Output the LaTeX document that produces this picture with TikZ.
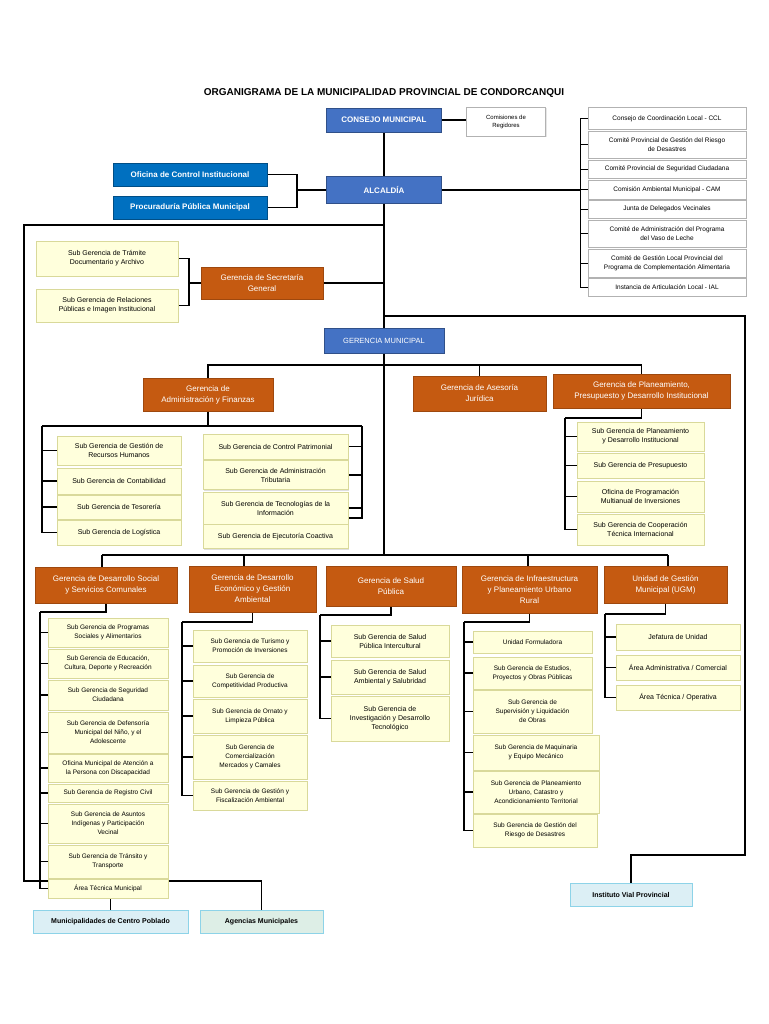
\documentclass[tikz,border=0pt]{standalone}
\usepackage{fontspec}
\setmainfont{Liberation Sans}
\usetikzlibrary{shadows,backgrounds}
\definecolor{bl}{HTML}{4472C4}
\definecolor{bl2}{HTML}{0070C0}
\definecolor{org}{HTML}{C55A11}
\definecolor{yf}{HTML}{FFFFDC}
\definecolor{yd}{HTML}{D9D99A}
\definecolor{lb}{HTML}{DCEFF5}
\definecolor{lg}{HTML}{DDEEE6}
\definecolor{cy}{HTML}{8DD3E8}
\begin{document}
\begin{tikzpicture}[x=1pt,y=-1pt,
 wh/.style 2 args={minimum width=#1pt,minimum height=#2pt},
 box/.style={draw,inner sep=1pt,align=center,font=\fontsize{7}{9}\selectfont},
 blu/.style={box,fill=bl,draw=bl!70!black,text=white,font=\fontsize{8}{10}\selectfont\bfseries},
 blu2/.style={box,fill=bl2,draw=bl2!70!black,text=white,font=\fontsize{8}{10}\selectfont\bfseries},
 ora/.style={box,fill=org,draw=org!80!black,text=white,font=\fontsize{8}{11}\selectfont},
 sub/.style={box,fill=yf,draw=yd,line width=0.8pt,drop shadow={opacity=0.25,shadow xshift=1pt,shadow yshift=-1pt}},
 wht/.style={box,fill=white,draw=gray!60,drop shadow={opacity=0.2,shadow xshift=1pt,shadow yshift=-1pt},font=\fontsize{6.5}{9}\selectfont},
 ln/.style={line width=1.3pt,black},
 thin/.style={line width=0.8pt,black}]
\useasboundingbox (0,0) rectangle (768,1024);
\node[font=\fontsize{10}{12}\selectfont\bfseries] (title) at (384,93) {ORGANIGRAMA DE LA MUNICIPALIDAD PROVINCIAL DE CONDORCANQUI};
% top
\node[blu,wh={115}{24}] (cm) at (384,120) {CONSEJO MUNICIPAL};
\node[wht,wh={79}{29},font=\fontsize{6}{8}\selectfont] (com) at (506,122) {Comisiones de\\Regidores};
\node[blu,wh={115}{27}] (alc) at (384,190) {ALCALDÍA};
\node[blu2,wh={154}{23}] (oci) at (190,174.5) {Oficina de Control Institucional};
\node[blu2,wh={154}{23}] (ppm) at (190,207.5) {Procuraduría Pública Municipal};
\node[wht,wh={158}{22}] (r1) at (667,118.5) {Consejo de Coordinación Local - CCL};
\node[wht,wh={158}{27}] (r2) at (667,144.5) {Comité Provincial de Gestión del Riesgo\\de Desastres};
\node[wht,wh={158}{18}] (r3) at (667,169) {Comité Provincial de Seguridad Ciudadana};
\node[wht,wh={158}{19}] (r4) at (667,189.5) {Comisión Ambiental Municipal - CAM};
\node[wht,wh={158}{18}] (r5) at (667,209) {Junta de Delegados Vecinales};
\node[wht,wh={158}{27}] (r6) at (667,233.5) {Comité de Administración del Programa\\del Vaso de Leche};
\node[wht,wh={158}{28}] (r7) at (667,263) {Comité de Gestión Local Provincial del\\Programa de Complementación Alimentaria};
\node[wht,wh={158}{18}] (r8) at (667,287) {Instancia de Articulación Local - IAL};
% secretaria
\node[ora,wh={122}{32}] (gsg) at (262,283) {Gerencia de Secretaría\\General};
\node[sub,wh={142}{35}] (s1) at (107,258.5) {Sub Gerencia de Trámite\\Documentario y Archivo};
\node[sub,wh={142}{33}] (s2) at (107,305.5) {Sub Gerencia de Relaciones\\Públicas e Imagen Institucional};
% gerencia municipal
\node[blu,wh={120}{25},font=\fontsize{7.5}{9}\selectfont] (gm) at (384,340.5) {GERENCIA MUNICIPAL};
\node[box,fill=lb,draw=cy,line width=1pt,wh={155}{23},font=\fontsize{7}{9}\selectfont\bfseries] (mcp) at (110.5,921.5) {Municipalidades de Centro Poblado};
\node[box,fill=lg,draw=cy,line width=1pt,wh={123}{23},font=\fontsize{7}{9}\selectfont\bfseries] (am) at (261.5,921.5) {Agencias Municipales};
\node[box,fill=lb,draw=cy,line width=1pt,wh={122}{23},font=\fontsize{7}{9}\selectfont\bfseries] (ivp) at (631,894.5) {Instituto Vial Provincial};
% level 2
\node[ora,wh={130}{33}] (gaf) at (208,394.5) {Gerencia de\\Administración y Finanzas};
\node[ora,wh={133}{35}] (gaj) at (479.5,393.5) {Gerencia de Asesoría\\Jurídica};
\node[ora,wh={177}{34}] (gpp) at (641.5,391) {Gerencia de Planeamiento,\\Presupuesto y Desarrollo Institucional};
\node[sub,wh={124}{29}] (a1) at (119,450.5) {Sub Gerencia de Gestión de\\Recursos Humanos};
\node[sub,wh={124}{26}] (a2) at (119,481) {Sub Gerencia de Contabilidad};
\node[sub,wh={124}{24}] (a3) at (119,507) {Sub Gerencia de Tesorería};
\node[sub,wh={124}{25}] (a4) at (119,532.5) {Sub Gerencia de Logística};
\node[sub,wh={145}{25}] (a5) at (275.5,446.5) {Sub Gerencia de Control Patrimonial};
\node[sub,wh={145}{29}] (a6) at (275.5,475) {Sub Gerencia de Administración\\Tributaria};
\node[sub,wh={145}{32}] (a7) at (275.5,508) {Sub Gerencia de Tecnologías de la\\Información};
\node[sub,wh={145}{24}] (a8) at (275.5,536.5) {Sub Gerencia de Ejecutoría Coactiva};
\node[sub,wh={127}{29}] (p1) at (640.5,436.5) {Sub Gerencia de Planeamiento\\y Desarrollo Institucional};
\node[sub,wh={127}{25}] (p2) at (640.5,465.5) {Sub Gerencia de Presupuesto};
\node[sub,wh={127}{31}] (p3) at (640.5,496.5) {Oficina de Programación\\Multianual de Inversiones};
\node[sub,wh={127}{31}] (p4) at (640.5,529.5) {Sub Gerencia de Cooperación\\Técnica Internacional};
% level 3
\node[ora,wh={142}{36}] (gds) at (106,585) {Gerencia de Desarrollo Social\\y Servicios Comunales};
\node[ora,wh={127}{46}] (gde) at (252.5,589) {Gerencia de Desarrollo\\Económico y Gestión\\Ambiental};
\node[ora,wh={130}{40}] (gsp) at (391,586) {Gerencia de Salud\\Pública};
\node[ora,wh={135}{47}] (gip) at (529.5,589.5) {Gerencia de Infraestructura\\y Planeamiento Urbano\\Rural};
\node[ora,wh={123}{37}] (ugm) at (665.5,584.5) {Unidad de Gestión\\Municipal (UGM)};
\foreach \n/\y/\h/\t in {d1/632.5/29/{Sub Gerencia de Programas\\Sociales y Alimentarios},
 d2/663.5/29/{Sub Gerencia de Educación,\\Cultura, Deporte y Recreación},
 d3/695/30/{Sub Gerencia de Seguridad\\Ciudadana},
 d4/732.5/41/{Sub Gerencia de Defensoría\\Municipal del Niño, y el\\Adolescente},
 d5/768/28/{Oficina Municipal de Atención a\\la Persona con Discapacidad},
 d6/793/18/{Sub Gerencia de Registro Civil},
 d7/823.5/39/{Sub Gerencia de Asuntos\\Indígenas y Participación\\Vecinal},
 d8/861.5/33/{Sub Gerencia de Tránsito y\\Transporte},
 d9/888.5/19/{Área Técnica Municipal}}
 \node[sub,wh={120}{\h},font=\fontsize{6.5}{9}\selectfont] (\n) at (108,\y) {\t};
\foreach \n/\y/\h/\t in {e1/646/32/{Sub Gerencia de Turismo y\\Promoción de Inversiones},
 e2/681/32/{Sub Gerencia de\\Competitividad Productiva},
 e3/716/34/{Sub Gerencia de Ornato y\\Limpieza Pública},
 e4/757/44/{Sub Gerencia de\\Comercialización\\Mercados y Camales},
 e5/795.5/29/{Sub Gerencia de Gestión y\\Fiscalización Ambiental}}
 \node[sub,wh={114}{\h},font=\fontsize{6.5}{9}\selectfont] (\n) at (250,\y) {\t};
\foreach \n/\y/\h/\t in {h1/641/32/{Sub Gerencia de Salud\\Pública Intercultural},
 h2/677/34/{Sub Gerencia de Salud\\Ambiental y Salubridad},
 h3/718.5/45/{Sub Gerencia de\\Investigación y Desarrollo\\Tecnológico}}
 \node[sub,wh={118}{\h}] (\n) at (390,\y) {\t};
\foreach \n/\x/\w/\y/\h/\t in {i1/532.5/119/642/22/{Unidad Formuladora},
 i2/532.5/119/673/32/{Sub Gerencia de Estudios,\\Proyectos y Obras Públicas},
 i3/532.5/119/711.5/43/{Sub Gerencia de\\Supervisión y Liquidación\\de Obras},
 i4/536/126/752.5/35/{Sub Gerencia de Maquinaria\\y Equipo Mecánico},
 i5/536/126/792/42/{Sub Gerencia de Planeamiento\\Urbano, Catastro y\\Acondicionamiento Territorial},
 i6/535/124/830.5/33/{Sub Gerencia de Gestión del\\Riesgo de Desastres}}
 \node[sub,wh={\w}{\h},font=\fontsize{6.5}{9}\selectfont] (\n) at (\x,\y) {\t};
\node[sub,wh={124}{26}] (u1) at (678,637) {Jefatura de Unidad};
\node[sub,wh={124}{25}] (u2) at (678,667.5) {Área Administrativa / Comercial};
\node[sub,wh={124}{25}] (u3) at (678,697.5) {Área Técnica / Operativa};
% ---------- connectors ----------
\begin{pgfonlayer}{background}
\draw[ln] (cm.east) -- (cm.east -| com.west);
\draw[ln] (cm.south) -- (alc.north);
\coordinate (ob) at (297,190);
\draw[ln] (alc.west) -- (ob) |- (oci.east); \draw[ln] (ob) |- (ppm.east);
\coordinate (rb) at (580,190);
\draw[ln] (alc.east) -- (rb);
\coordinate (rt) at (580,118.5);
\foreach \n in {r1,r2,r3,r4,r5,r6,r7,r8} \draw[thin] (rt) |- (\n.west);
\coordinate (sb) at (189,283);
\draw[ln] (gsg.west) -- (sb) |- (s1.east); \draw[ln] (sb) |- (s2.east);
\coordinate (m1) at (384,225); \coordinate (m2) at (384,283); \coordinate (m3) at (384,316); \coordinate (m4) at (384,555);
\draw[ln] (alc.south) -- (m4);
\draw[ln] (gsg.east) -- (m2);
\coordinate (lb1) at (24,881);
\draw[ln] (m1) -| (lb1) -| (am.north);
\draw[ln] (mcp.north) -- (mcp.north |- lb1);
\coordinate (rv) at (745,855);
\draw[ln] (m3) -| (rv) -| (ivp.north);
\coordinate (b2) at (384,365);
\draw[ln] (gaf.north) |- (b2) -| (gpp.north);
\draw[ln] (gaj.north) -- (gaj.north |- b2);
\coordinate (ab) at (208,426); \coordinate (al) at (42,426); \coordinate (ar) at (362,426);
\draw[ln] (gaf.south) -- (ab); \draw[ln] (al) -- (ar);
\foreach \n in {a1,a2,a3,a4} \draw[ln] (al) |- (\n.west);
\foreach \n in {a5,a6,a7} \draw[ln] (ar) |- (\n.east);
\draw[ln] (ar) -- ++(0,92) -- ++(-14,0);
\coordinate (pb) at (565,418);
\draw[ln] (gpp.south) |- (pb);
\foreach \n in {p1,p2,p3,p4} \draw[ln] (pb) |- (\n.west);
\coordinate (b3l) at (102,555); \coordinate (b3r) at (668,555);
\draw[ln] (b3l) -- (b3r);
\draw[ln] (b3l) -- (b3l |- gds.north); \draw[ln] (244,555) -- (244,566); \draw[ln] (528,555) -- (528,566); \draw[ln] (b3r) -- (b3r |- ugm.north);
\coordinate (db) at (40,612);
\draw[ln] (gds.south) |- (db);
\foreach \n in {d1,d2,d3,d4,d5,d6,d7,d8,d9} \draw[ln] (db) |- (\n.west);
\coordinate (eb) at (182,622);
\draw[ln] (gde.south) |- (eb);
\foreach \n in {e1,e2,e3,e4,e5} \draw[ln] (eb) |- (\n.west);
\coordinate (hb) at (320,615);
\draw[ln] (gsp.south) |- (hb);
\foreach \n in {h1,h2,h3} \draw[ln] (hb) |- (\n.west);
\coordinate (ib) at (464,622);
\draw[ln] (gip.south) |- (ib);
\foreach \n in {i1,i2,i3,i4,i5,i6} \draw[ln] (ib) |- (\n.west);
\coordinate (ub) at (605,614);
\draw[ln] (ugm.south) |- (ub);
\foreach \n in {u1,u2,u3} \draw[ln] (ub) |- (\n.west);
\end{pgfonlayer}
\end{tikzpicture}
\end{document}
